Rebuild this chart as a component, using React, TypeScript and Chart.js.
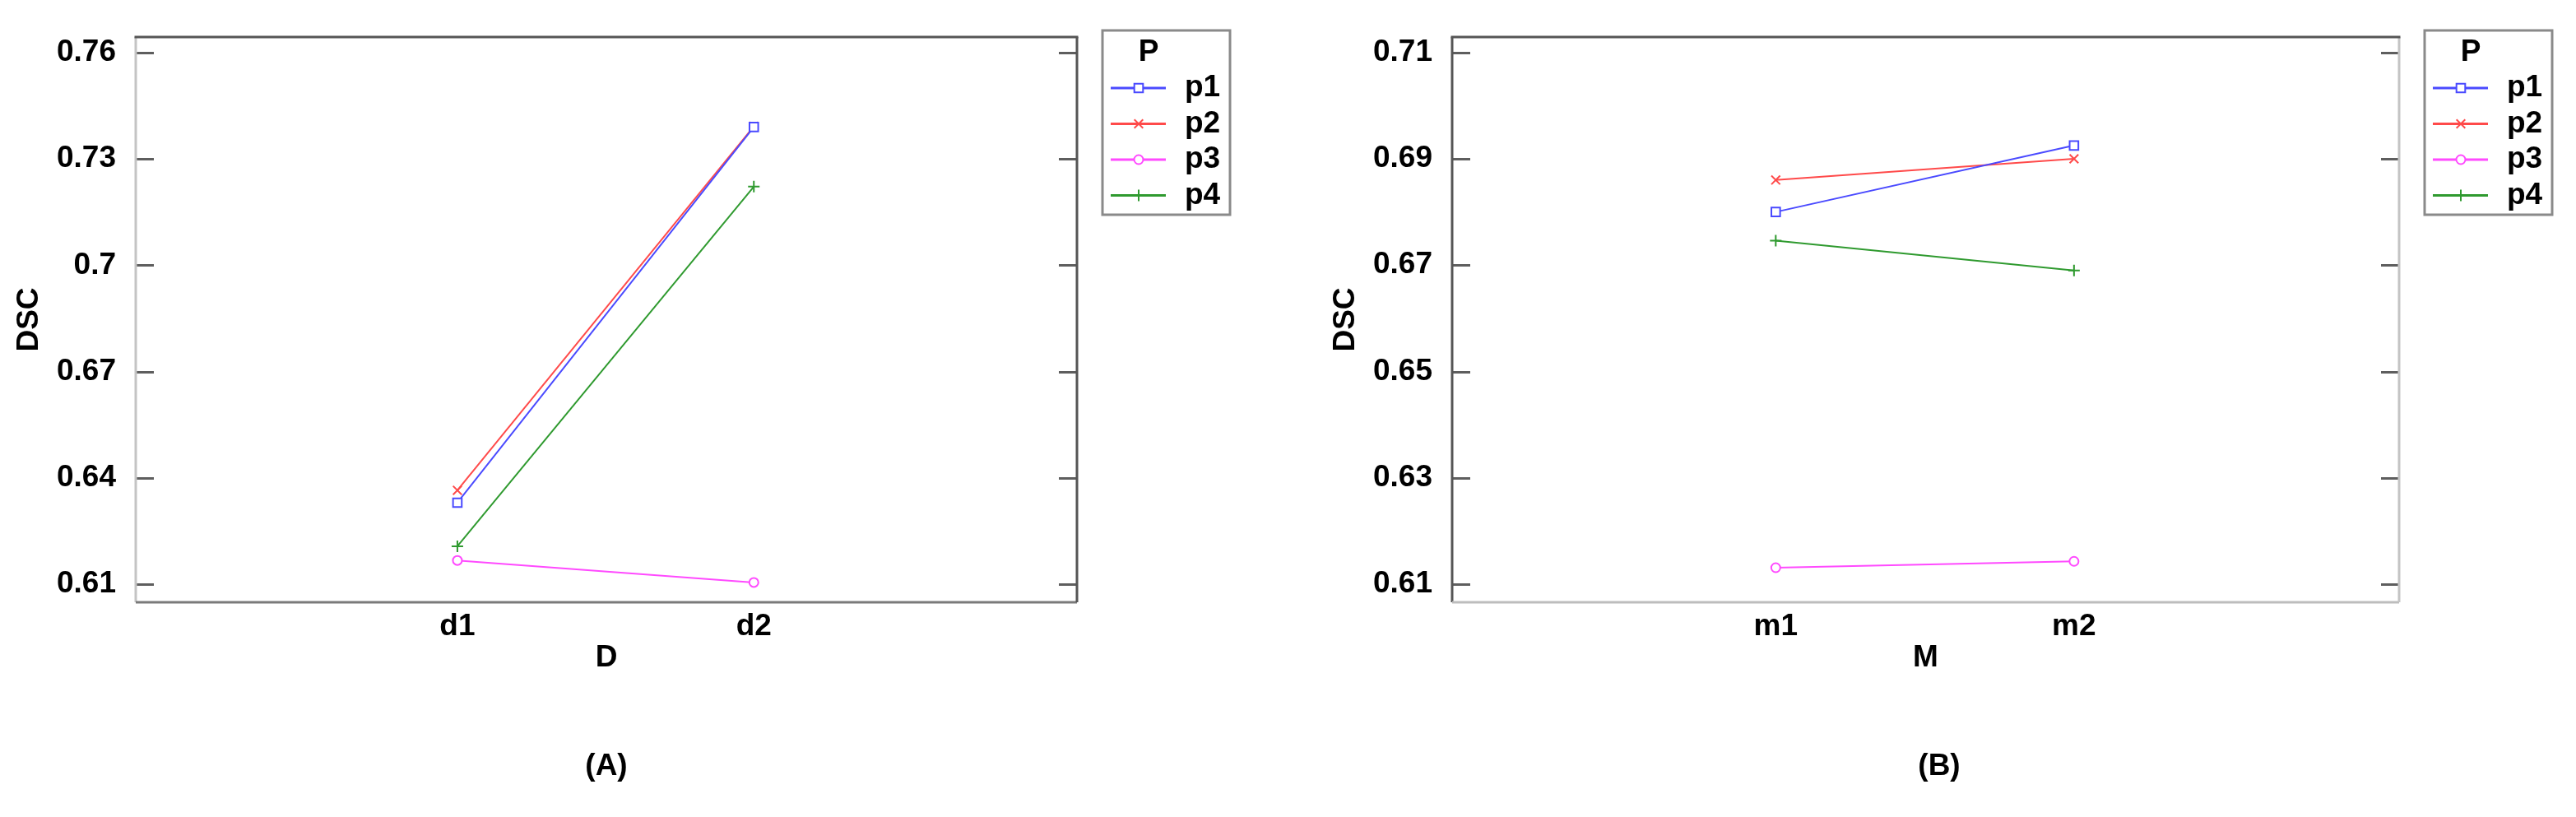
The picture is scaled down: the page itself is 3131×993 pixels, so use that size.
import React, { useEffect, useRef } from 'react';
import { Chart, registerables } from 'chart.js';
import { drawPoint } from 'chart.js/helpers';

Chart.register(...registerables);

// ---------- data ----------
const seriesNames = ['p1', 'p2', 'p3', 'p4'];

const dCategories = ['d1', 'd2'];
const dP1 = [0.633, 0.739];
const dP2 = [0.6365, 0.7392];
const dP3 = [0.6167, 0.6105];
const dP4 = [0.6207, 0.7222];
const dTicks = [0.61, 0.64, 0.67, 0.7, 0.73, 0.76];
const dTickLabels = ['0.61', '0.64', '0.67', '0.7', '0.73', '0.76'];

const mCategories = ['m1', 'm2'];
const mP1 = [0.68, 0.6925];
const mP2 = [0.686, 0.69];
const mP3 = [0.6131, 0.6143];
const mP4 = [0.6746, 0.669];
const mTicks = [0.61, 0.63, 0.65, 0.67, 0.69, 0.71];
const mTickLabels = ['0.61', '0.63', '0.65', '0.67', '0.69', '0.71'];

// ---------- styles ----------
const FONT_FAMILY = "'Liberation Sans', Arial, sans-serif";
const FONT = { family: FONT_FAMILY, size: 37, weight: 'bold' as const };
const seriesColors = ['#4a4aff', '#ff4a4a', '#ff4aff', '#2f9a2f'];
const seriesPointStyles = ['rect', 'crossRot', 'circle', 'cross'];
const seriesPointRadius = [7.5, 7.5, 5.5, 7];

const decorPlugin = {
  id: 'decor',
  afterDatasetsDraw(chart: any, _args: any, opts: any) {
    const { ctx, chartArea } = chart;
    const { left, right, top, bottom } = chartArea;
    const ys = chart.scales.y;
    ctx.save();
    // inner tick marks on left and right sides
    ctx.strokeStyle = '#5e5e5e';
    ctx.lineWidth = 3;
    ys.ticks.forEach((t: any) => {
      const py = Math.round(ys.getPixelForValue(t.value)) + 0.5;
      ctx.beginPath();
      ctx.moveTo(left, py);
      ctx.lineTo(left + 22, py);
      ctx.moveTo(right - 22, py);
      ctx.lineTo(right, py);
      ctx.stroke();
    });
    // frame
    const f = opts.frame;
    const seg = (color: string, x1: number, y1: number, x2: number, y2: number) => {
      ctx.strokeStyle = color;
      ctx.lineWidth = 3;
      ctx.beginPath();
      ctx.moveTo(x1, y1);
      ctx.lineTo(x2, y2);
      ctx.stroke();
    };
    seg(f.left, left, top, left, bottom);
    seg(f.bottom, left, bottom, right, bottom);
    seg(f.right, right, top, right, bottom);
    seg(f.top, left - 1.5, top, right + 1.5, top);

    // legend box
    const bx = right + opts.legendGap;
    const by = 37;
    const bw = 155;
    const bh = 224;
    ctx.strokeStyle = '#8a8a8a';
    ctx.lineWidth = 3;
    ctx.strokeRect(bx, by, bw, bh);
    ctx.fillStyle = '#000';
    ctx.font = `bold 37px ${FONT_FAMILY}`;
    ctx.textAlign = 'center';
    ctx.textBaseline = 'middle';
    ctx.fillText(opts.legendTitle, bx + 56, by + 27);
    chart.data.datasets.forEach((ds: any, i: number) => {
      const ry = by + 70 + i * 43.5;
      ctx.strokeStyle = ds.borderColor;
      ctx.lineWidth = 3;
      ctx.beginPath();
      ctx.moveTo(bx + 10, ry);
      ctx.lineTo(bx + 77, ry);
      ctx.stroke();
      ctx.fillStyle = '#ffffff';
      ctx.strokeStyle = ds.borderColor;
      ctx.lineWidth = 2;
      drawPoint(ctx, { pointStyle: ds.pointStyle, radius: ds.pointRadius, rotation: 0, borderWidth: 2 }, bx + 44, ry);
      ctx.fillStyle = '#000';
      ctx.textAlign = 'left';
      ctx.fillText(ds.label, bx + 100, ry);
    });
    ctx.restore();
  },
};

type PanelProps = {
  left: number;
  width: number;
  categories: string[];
  series: number[][];
  yMin: number;
  yMax: number;
  yTicks: number[];
  yTickLabels: string[];
  xTitle: string;
  plotRight: number;
  frame: { left: string; right: string; top: string; bottom: string };
};

function Panel(props: PanelProps) {
  const ref = useRef<HTMLCanvasElement | null>(null);
  useEffect(() => {
    const canvas = ref.current;
    if (!canvas) return;
    const datasets = props.series.map((vals, si) => ({
      label: seriesNames[si],
      data: vals.map((v, i) => ({ x: i + 1, y: v })),
      borderColor: seriesColors[si],
      backgroundColor: '#ffffff',
      pointBackgroundColor: '#ffffff',
      pointBorderColor: seriesColors[si],
      pointStyle: seriesPointStyles[si],
      pointRadius: seriesPointRadius[si],
      pointBorderWidth: 2,
      borderWidth: 2,
      tension: 0,
    }));
    const chart = new Chart(canvas, {
      type: 'line',
      data: { datasets } as any,
      plugins: [decorPlugin as any],
      options: {
        animation: false,
        responsive: false,
        devicePixelRatio: 1,
        maintainAspectRatio: false,
        layout: { padding: { left: 14, top: 45, right: props.width - props.plotRight, bottom: 171 } },
        plugins: {
          legend: { display: false },
          tooltip: { enabled: false },
          decor: { frame: props.frame, legendGap: 31, legendTitle: 'P' },
        } as any,
        scales: {
          x: {
            type: 'linear',
            min: -0.085,
            max: 3.09,
            afterBuildTicks: (s: any) => {
              s.ticks = props.categories.map((_c, i) => ({ value: i + 1 }));
            },
            afterFit: (s: any) => {
              s.height = 90;
            },
            ticks: {
              callback: (_v: any, i: number) => props.categories[i],
              font: FONT,
              color: '#000',
              padding: 0,
              maxRotation: 0,
              autoSkip: false,
            },
            grid: { display: false },
            border: { display: false },
            title: { display: true, text: props.xTitle, font: FONT, color: '#000', padding: 0 },
          },
          y: {
            type: 'linear',
            min: props.yMin,
            max: props.yMax,
            afterBuildTicks: (s: any) => {
              s.ticks = props.yTicks.map((v) => ({ value: v }));
            },
            afterFit: (s: any) => {
              s.width = 151;
            },
            ticks: {
              callback: (_v: any, i: number) => props.yTickLabels[i],
              font: FONT,
              color: '#000',
              padding: 16,
            },
            grid: { display: false },
            border: { display: false },
            title: { display: true, text: 'DSC', font: FONT, color: '#000', padding: 0 },
          },
        },
      } as any,
    });
    return () => chart.destroy();
  }, []);
  return (
    <canvas
      ref={ref}
      width={props.width}
      height={993}
      style={{ position: 'absolute', left: props.left, top: 0, width: props.width, height: 993 }}
    />
  );
}

const captionStyle = (x: number): React.CSSProperties => ({
  position: 'absolute',
  left: x,
  top: 930,
  transform: 'translate(-50%, -50%)',
  font: `bold 37px ${FONT_FAMILY}`,
  color: '#000',
  whiteSpace: 'nowrap',
});

export default function App() {
  return (
    <div
      style={{
        position: 'fixed',
        left: 0,
        top: 0,
        width: 3131,
        height: 993,
        background: '#ffffff',
        overflow: 'hidden',
      }}
    >
      <Panel
        left={0}
        width={1560}
        categories={dCategories}
        series={[dP1, dP2, dP3, dP4]}
        yMin={0.6049}
        yMax={0.7644}
        yTicks={dTicks}
        yTickLabels={dTickLabels}
        xTitle="D"
        plotRight={1309}
        frame={{ left: '#c4c4c4', bottom: '#7a7a7a', right: '#555555', top: '#555555' }}
      />
      <Panel
        left={1600}
        width={1531}
        categories={mCategories}
        series={[mP1, mP2, mP3, mP4]}
        yMin={0.6066}
        yMax={0.7129}
        yTicks={mTicks}
        yTickLabels={mTickLabels}
        xTitle="M"
        plotRight={1316}
        frame={{ left: '#555555', bottom: '#bdbdbd', right: '#c4c4c4', top: '#555555' }}
      />
      <div style={captionStyle(737)}>(A)</div>
      <div style={captionStyle(2357)}>(B)</div>
    </div>
  );
}
